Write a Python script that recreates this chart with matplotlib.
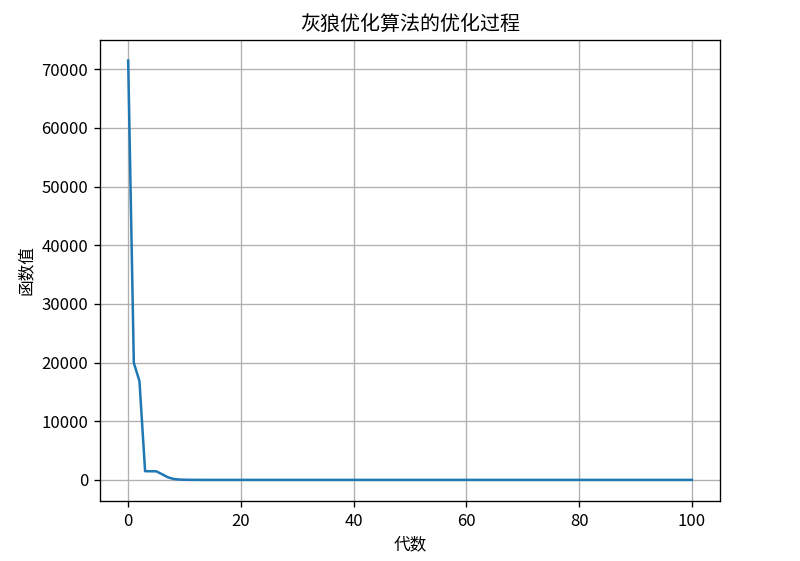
import matplotlib
matplotlib.use('Agg')
import matplotlib.pyplot as plt
import numpy as np

plt.rcParams['font.family'] = ['Noto Sans CJK SC', 'DejaVu Sans']
plt.rcParams['axes.unicode_minus'] = False

# best fitness per generation
head_values = [71500, 19950, 16850, 1480, 1470, 1460, 970, 460, 170, 60, 25, 10, 5]
n_gen = 101
values = head_values + [0] * (n_gen - len(head_values))
generations = list(range(n_gen))

fig = plt.figure(figsize=(800 / 120, 561 / 120), dpi=120)
ax = fig.add_axes([100 / 800, 1 - 501 / 561, 620 / 800, 461 / 561])
ax.plot(generations, values, color='#1f77b4')
ax.set_xlim(-5, 105)
ax.set_ylim(-3600, 75000)
ax.grid(True)
ax.set_title('灰狼优化算法的优化过程')
ax.set_xlabel('代数')
ax.set_ylabel('函数值')

fig.savefig('out.png', dpi=120)
